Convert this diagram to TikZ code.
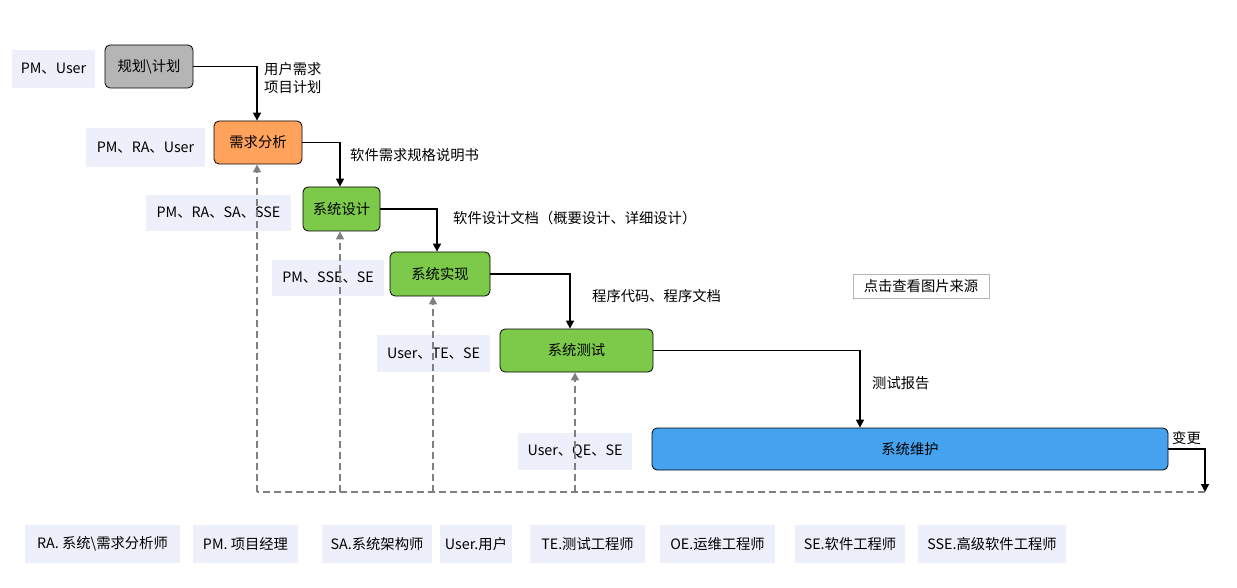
\documentclass[tikz,border=0pt]{standalone}
\usepackage{fontspec}
\setmainfont{Noto Sans CJK SC}
\usetikzlibrary{arrows.meta}
\definecolor{lbl}{HTML}{EDF0FB}
\definecolor{gr}{HTML}{B5B5B5}
\definecolor{org}{HTML}{FFA35C}
\definecolor{grn}{HTML}{7DC94A}
\definecolor{blu}{HTML}{45A2EE}
\begin{document}
\begin{tikzpicture}[x=1pt,y=-1pt,font=\fontsize{14.3}{18}\selectfont,
 box/.style={draw=black,line width=0.8pt,rounded corners=5pt,inner sep=0pt},
 lab/.style={fill=lbl,inner sep=0pt},
 flow/.style={line width=1.6pt,-{Triangle[length=8pt,width=8pt]}},
 dline/.style={gr!70!black,line width=1.6pt,dash pattern=on 7pt off 4pt},
 darr/.style={dline,-{Triangle[length=8pt,width=8pt]}}]
\useasboundingbox (0,0) rectangle (1237,588);
\node[box,fill=gr,minimum width=88,minimum height=43] (plan) at (149,66.5) {规划\textbackslash 计划};
\node[box,fill=org,minimum width=88,minimum height=43] (req) at (258,142.5) {需求分析};
\node[box,fill=grn,minimum width=77,minimum height=44] (des) at (341.5,209) {系统设计};
\node[box,fill=grn,minimum width=100,minimum height=44] (imp) at (440,274) {系统实现};
\node[box,fill=grn,minimum width=153,minimum height=43] (tst) at (576.5,350.5) {系统测试};
\node[box,fill=blu,minimum width=516,minimum height=42] (mnt) at (910,449) {系统维护};
\node[lab,minimum width=83,minimum height=38] (l1) at (53.5,69) {PM、User};
\node[lab,minimum width=119,minimum height=39] (l2) at (145.5,147.5) {PM、RA、User};
\node[lab,minimum width=145,minimum height=36] (l3) at (218.5,213) {PM、RA、SA、SSE};
\node[lab,minimum width=112,minimum height=36] (l4) at (328,278) {PM、SSE、SE};
\node[lab,minimum width=113,minimum height=37] (l5) at (433.5,353.5) {User、TE、SE};
\node[lab,minimum width=114,minimum height=37] (l6) at (575,451.5) {User、QE、SE};
\node[draw=gr,line width=0.6pt,minimum width=136,minimum height=24,inner sep=0pt] (src) at (921,286) {点击查看图片来源};
\foreach \t/\a/\b [count=\i] in {RA. 系统\textbackslash 需求分析师/25/180, PM. 项目经理/193/298, SA.系统架构师/322/432, User.用户/440/512, TE.测试工程师/530/645, OE.运维工程师/660/775, SE.软件工程师/795/905, SSE.高级软件工程师/918/1066}
  \node[lab,minimum width={\b-\a},minimum height=38] (g\i) at ({(\a+\b)/2},544) {\t};
\coordinate (c1) at (257,66.5); \coordinate (c2) at (340,142.5);
\coordinate (c3) at (437,209); \coordinate (c4) at (570,274);
\coordinate (c5) at (860,350.5); \coordinate (c6) at (1205,449);
\coordinate (e) at (1205,492); \coordinate (b1) at (257,492);
\coordinate (b2) at (340,492); \coordinate (b3) at (433,492); \coordinate (b4) at (575,492);
\draw[flow] (plan.east) -- (c1) -- (c1|-req.north);
\draw[flow] (req.east) -- (c2) -- (c2|-des.north);
\draw[flow] (des.east) -- (c3) -- (c3|-imp.north);
\draw[flow] (imp.east) -- (c4) -- (c4|-tst.north);
\draw[flow] (tst.east) -- (c5) -- (c5|-mnt.north);
\draw[flow] (mnt.east) -- (c6) -- (e);
\draw[dline] (e) -- (b1);
\draw[darr] (b1) -- (b1|-req.south);
\draw[darr] (b2) -- (b2|-des.south);
\draw[darr] (b3) -- (b3|-imp.south);
\draw[darr] (b4) -- (b4|-tst.south);
\node[anchor=north west,align=left,inner sep=0pt] at (264,62) {用户需求\\项目计划};
\node[anchor=west,inner sep=0pt] at (350,155) {软件需求规格说明书};
\node[anchor=west,inner sep=0pt] at (453,218) {软件设计文档（概要设计、详细设计）};
\node[anchor=west,inner sep=0pt] at (592,296) {程序代码、程序文档};
\node[anchor=west,inner sep=0pt] at (872,383) {测试报告};
\node[anchor=west,inner sep=0pt] at (1172,438) {变更};
\end{tikzpicture}
\end{document}
